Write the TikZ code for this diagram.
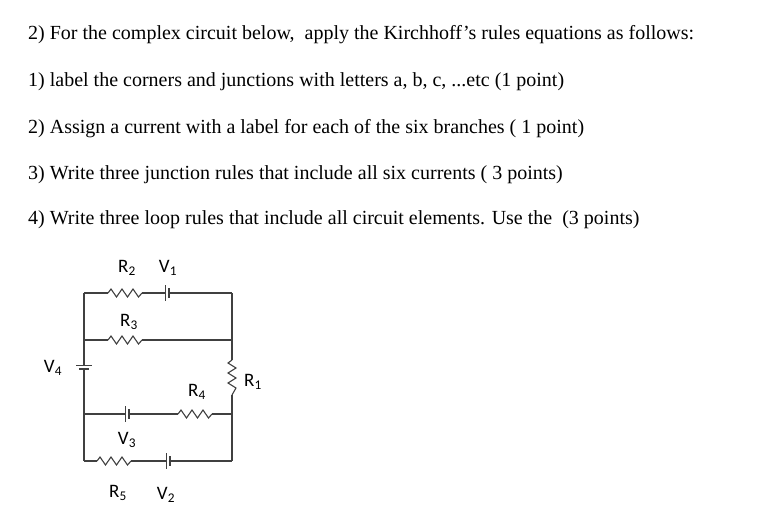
\documentclass[tikz,border=0pt]{standalone}
\usepackage{fontspec}
\setmainfont{Liberation Serif}
\newfontfamily\lab{Carlito}
\begin{document}
\begin{tikzpicture}[x=1pt,y=-1pt,
  txt/.style={anchor=west,inner sep=0pt,font=\fontsize{20}{24}\selectfont},
  lb/.style={inner sep=0pt,font=\lab\fontsize{19}{22}\selectfont},
  w/.style={draw=black!75,line width=1.1pt}]
\useasboundingbox (0,0) rectangle (774,532);
\node[txt] (t1) at (28,35) {2) For the complex circuit below,\ \ apply the Kirchhoff's rules equations as follows:};
\node[txt] (t2) at (28,82) {1) label the corners and junctions with letters a, b, c, ...etc (1 point)};
\node[txt] (t3) at (28,129) {2) Assign a current with a label for each of the six branches ( 1 point)};
\node[txt] (t4) at (28,175) {3) Write three junction rules that include all six currents ( 3 points)};
\node[txt] (t5) at (28,220) {4) Write three loop rules that include all circuit elements. Use the\ \ (3 points)};
\tikzset{hres/.pic={\draw[w] (0,0) -- (3,-4) -- (8.5,4) -- (14,-4) -- (19.5,4) -- (25,-4) -- (30.5,4) -- (34,0);},
 vres/.pic={\draw[w] (0,0) -- (-4,3) -- (4,8) -- (-4,13) -- (4,18) -- (-4,23) -- (4,28) -- (0,35);},
 hbat/.pic={\draw[draw=black!75,line width=1pt] (-2,-8) -- (-2,8); \draw[draw=black!75,line width=2pt] (2,-5) -- (2,5);},
 vbat/.pic={\draw[draw=black!75,line width=1pt] (-8,-2) -- (8,-2); \draw[draw=black!75,line width=2pt] (-5,2) -- (5,2);}}
\draw[w] (84,293) -- (108,293) (142,293) -- (165,293) (169,293) -- (232,293);
\pic at (108,293) {hres}; \pic at (167,293) {hbat};
\draw[w] (84,340) -- (108,340) (142,340) -- (232,340);
\pic at (108,340) {hres};
\draw[w] (84,293) -- (84,365) (84,369) -- (84,461);
\pic at (84,367) {vbat};
\draw[w] (232,293) -- (232,360) (232,395) -- (232,461);
\pic at (232,360) {vres};
\draw[w] (84,414) -- (125,414) (129,414) -- (178,414) (212,414) -- (232,414);
\pic at (127,414) {hbat}; \pic at (178,414) {hres};
\draw[w] (84,461) -- (97,461) (131,461) -- (166,461) (170,461) -- (232,461);
\pic at (97,461) {hres}; \pic at (168,461) {hbat};
\node[lb] (r2) at (127,268) {R\textsubscript{2}};
\node[lb] (v1) at (168,268) {V\textsubscript{1}};
\node[lb] (r3) at (129,322) {R\textsubscript{3}};
\node[lb] (v4) at (53,368) {V\textsubscript{4}};
\node[lb] (r1) at (253,382) {R\textsubscript{1}};
\node[lb] (r4) at (197,392) {R\textsubscript{4}};
\node[lb] (v3) at (127,440) {V\textsubscript{3}};
\node[lb] (r5) at (118,493) {R\textsubscript{5}};
\node[lb] (v2) at (166,495) {V\textsubscript{2}};
\end{tikzpicture}
\end{document}
